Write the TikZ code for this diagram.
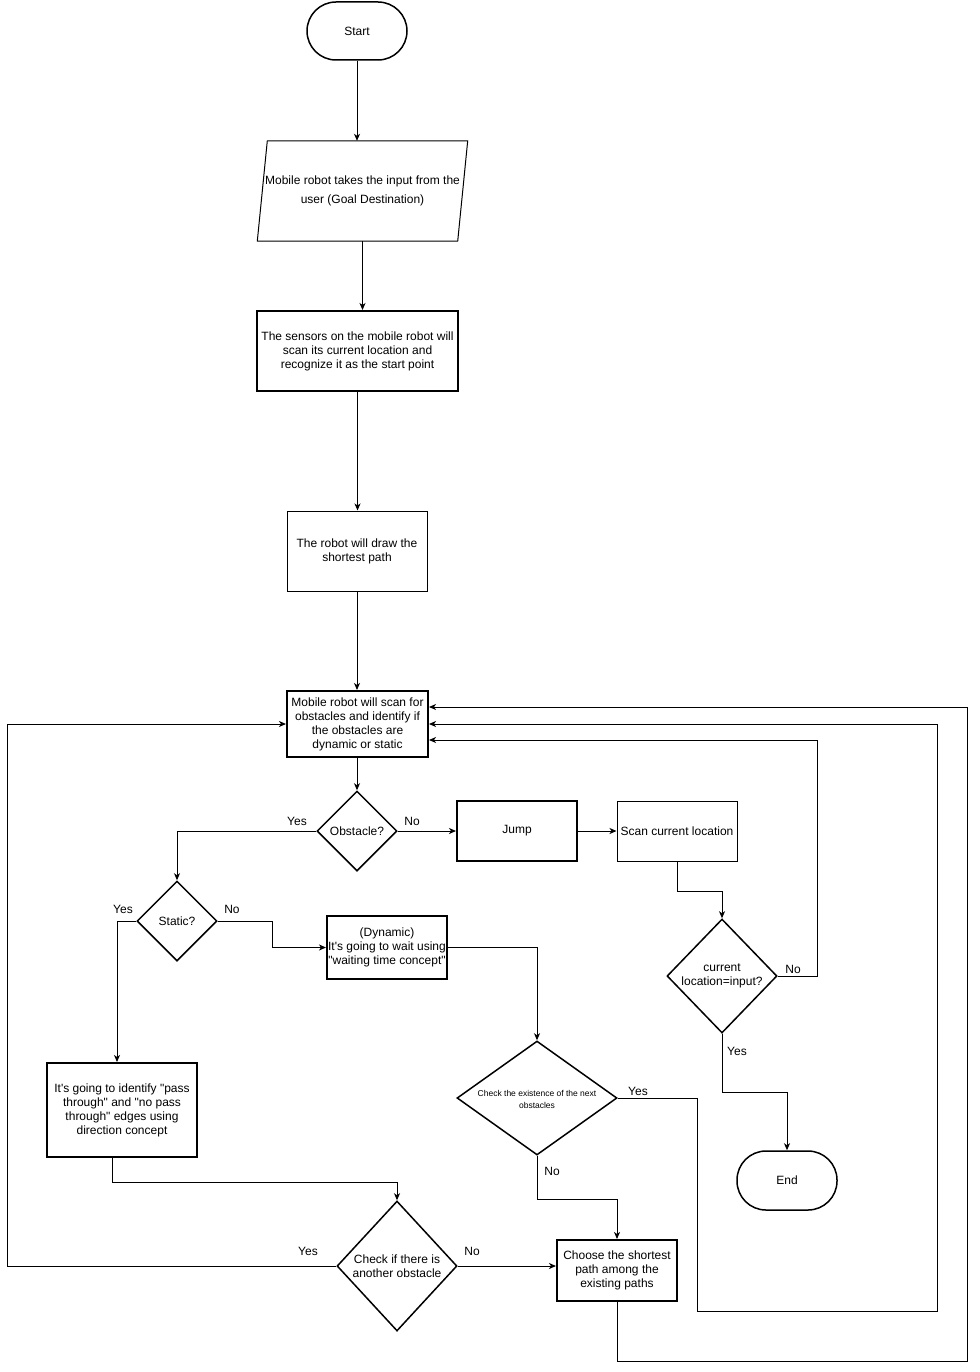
\documentclass[tikz,border=0pt]{standalone}
\usepackage{fontspec}
\setmainfont{Liberation Sans}
\usetikzlibrary{shapes.geometric,arrows.meta,calc}
\newcommand{\dq}{\textquotedbl}
\newcommand{\sq}{\textquotesingle}
\begin{document}
\begin{tikzpicture}[x=1pt,y=-1pt,
  every node/.style={font=\fontsize{12}{14}\selectfont, align=center, inner sep=0pt},
  box/.style={draw, line width=1pt},
  tbox/.style={draw, line width=2pt},
  stad/.style={draw, line width=1.5pt, rounded corners=29pt, minimum width=100pt, minimum height=58pt},
  dia/.style={draw, diamond, line width=1.5pt},
  lbl/.style={font=\fontsize{12}{14}\selectfont},
  arr/.style={draw, line width=1pt, -{Stealth[length=7pt,width=6pt,inset=2pt]}},
  conn/.style={draw, line width=1pt}
]
\useasboundingbox (0,0) rectangle (979,1372);

% nodes
\node[stad] (start) at (357,31) {Start};
\node[minimum width=200pt, minimum height=100pt] (inp) at (362.5,191)
  {Mobile robot takes the input from the\\[5pt]user (Goal Destination)};
\draw[line width=1pt] ($(inp.north west)+(5,0)$) -- ($(inp.north east)+(5,0)$)
  -- ($(inp.south east)+(-5,0)$) -- ($(inp.south west)+(-5,0)$) -- cycle;
\node[tbox, minimum width=201pt, minimum height=80pt] (sens) at (357.5,351)
  {The sensors on the mobile robot will\\scan its current location and\\recognize it as the start point};
\node[box, minimum width=140pt, minimum height=80pt] (drw) at (357,551)
  {The robot will draw the\\shortest path};
\node[tbox, minimum width=141pt, minimum height=66pt] (scan) at (357.5,724)
  {Mobile robot will scan for\\obstacles and identify if\\the obstacles are\\dynamic or static};
\node[dia, minimum width=80pt, minimum height=80pt] (obs) at (357,831) {};
\node (obst) at (obs) {Obstacle?};
\node[tbox, minimum width=120pt, minimum height=60pt] (jump) at (517,831) {Jump};
\node[box, minimum width=120pt, minimum height=60pt] (scl) at (677,831) {Scan current location};
\node[dia, minimum width=80pt, minimum height=80pt] (stat) at (177,921) {};
\node (statt) at (stat) {Static?};
\node[tbox, minimum width=120pt, minimum height=63pt] (dyn) at (387,947.5)
  {(Dynamic)\\It\sq s going to wait using\\\dq waiting time concept\dq};
\node[dia, minimum width=110pt, minimum height=114pt] (cur) at (722,976) {};
\node (curt) at (cur) {current\\location=input?};
\node[dia, minimum width=160pt, minimum height=114pt] (chk) at (537,1098) {};
\node[font=\fontsize{8.5}{12}\selectfont] (chkt) at (537,1099) {Check the existence of the next\\obstacles};
\node[stad, minimum height=59pt] (endn) at (787,1180.5) {End};
\node[tbox, minimum width=150pt, minimum height=94pt] (ident) at (122,1110)
  {It\sq s going to identify \dq pass\\through\dq{} and \dq no pass\\through\dq{} edges using\\direction concept};
\node[dia, minimum width=120pt, minimum height=130pt] (anoth) at (397,1266) {};
\node (anotht) at (anoth) {Check if there is\\another obstacle};
\node[tbox, minimum width=120pt, minimum height=61pt] (choose) at (617,1270.5)
  {Choose the shortest\\path among the\\existing paths};

% connectors
\draw[arr] (start.south) -- (start.south |- inp.north);
\draw[arr] (inp.south) -- (inp.south |- sens.north);
\draw[arr] (sens.south) -- (sens.south |- drw.north);
\draw[arr] (drw.south) -- (drw.south |- scan.north);
\draw[arr] (scan.south -| obs.north) -- (obs.north);
\draw[arr] (obs.west) -| (stat.north);
\draw[arr] (obs.east) -- (jump.west);
\draw[arr] (jump.east) -- (scl.west);
\draw[arr] (scl.south) -- ++(0,30) -| (cur.north);
\draw[arr] (cur.east) -- ++(40,0) |- ($(scan.east)+(0,16)$);
\draw[arr] (cur.south) -- ++(0,59) -| (endn.north);
\draw[arr] (stat.west) -| ($(ident.north)+(-5,0)$);
\draw[arr] (stat.east) -- ++(55,0) |- (dyn.west);
\draw[arr] (dyn.east) -| (chk.north);
\draw[arr] (chk.east) -| (697,1311) -| (937,1000) |- (scan.east);
\draw[arr] (chk.south) -- ++(0,44) -| (choose.north);
\draw[arr] ($(ident.south)+(-10,0)$) -- ++(0,24) -| (anoth.north);
\draw[arr] (anoth.west) -- (7,1266) |- (scan.west);
\draw[arr] (anoth.east) -- (choose.west |- anoth.east);
\draw[arr] (choose.south) |- (967,1361) |- ($(scan.east)+(0,-17)$);

% labels
\node[lbl] (l1) at (297,821) {Yes};
\node[lbl] (l2) at (412,821) {No};
\node[lbl] (l3) at (123,909) {Yes};
\node[lbl] (l4) at (232,909) {No};
\node[lbl] (l5) at (793,969) {No};
\node[lbl] (l6) at (737,1051) {Yes};
\node[lbl] (l7) at (638,1091) {Yes};
\node[lbl] (l8) at (552,1171) {No};
\node[lbl] (l9) at (308,1251) {Yes};
\node[lbl] (l10) at (472,1251) {No};
\end{tikzpicture}
\end{document}
